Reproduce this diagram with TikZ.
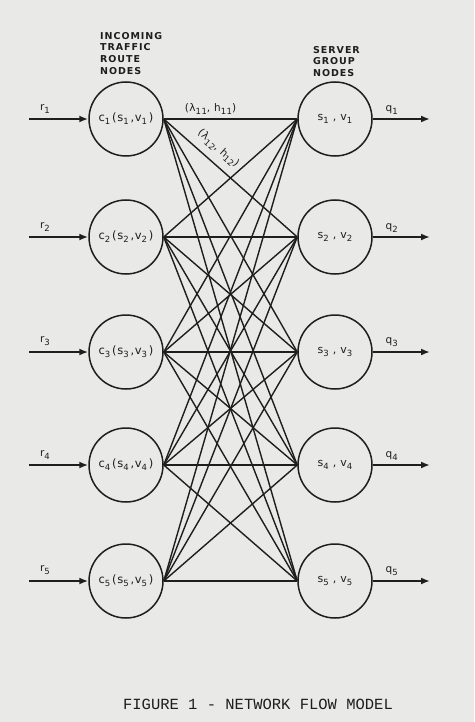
\documentclass[tikz,border=0pt]{standalone}
\usepackage{fontspec}
\usetikzlibrary{arrows.meta}
\newfontfamily\lett[LetterSpace=5]{DejaVu Sans}
\newfontfamily\hdr[LetterSpace=10]{DejaVu Sans}
\newfontfamily\typew{Liberation Mono}
\newcommand{\lsub}[1]{\raisebox{-3pt}{\fontsize{8.5}{9}\selectfont #1}}
\definecolor{paper}{RGB}{233,233,231}
\definecolor{ink}{RGB}{30,30,30}
\begin{document}
\begin{tikzpicture}[x=1pt,y=-1pt,
  lnode/.style={circle,draw=ink,line width=1.5pt,minimum size=74pt,inner sep=0pt,text=ink,font=\lett\fontsize{11.5}{12}\selectfont},
  rnode/.style={circle,draw=ink,line width=1.5pt,minimum size=74pt,inner sep=0pt,text=ink,font=\lett\fontsize{11}{12}\selectfont},
  arr/.style={draw=ink,line width=1.8pt,-{Latex[length=9pt,width=7pt]}},
  flow/.style={draw=ink,line width=1.4pt},
  lbl/.style={text=ink,font=\lett\fontsize{10.5}{12}\selectfont,inner sep=1pt},
  head/.style={text=ink,align=left,anchor=north west,inner sep=0pt,font=\hdr\bfseries\fontsize{9.5}{11.6}\selectfont}
]
\fill[paper] (0,0) rectangle (474,722);
\useasboundingbox (0,0) rectangle (474,722);
\node[head] (hl) at (100,32) {INCOMING\\TRAFFIC\\ROUTE\\NODES};
\node[head] (hr) at (313,46) {SERVER\\GROUP\\NODES};
\foreach \i/\y in {1/119,2/237,3/352,4/465,5/581}{
  \node[lnode] (c\i) at (126,\y) {c\lsub{\i}\,(s\lsub{\i}\,,v\lsub{\i}\,)};
  \node[rnode] (s\i) at (335,\y) {s\lsub{\i} , v\lsub{\i}};
  \coordinate (in\i) at (29,\y);
  \coordinate (out\i) at (430,\y);
  \draw[arr] (in\i) -- (c\i.west) node[lbl,pos=0.27,above=4pt] (r\i) {r\lsub{\i}};
  \draw[arr] (s\i.east) -- (out\i) node[lbl,pos=0.33,above=3pt] (q\i) {q\lsub{\i}};
}
\foreach \i in {1,...,5}{
  \foreach \j in {1,...,5}{
    \draw[flow] (c\i.east) -- (s\j.west);
  }
}
\path (c1.east) -- (s1.west) node[lbl,pos=0.35,above=3pt] (l11) {(λ\lsub{11}, h\lsub{11})};
\path (c1.east) -- (s2.west) node[lbl,pos=0.34,sloped,above=7pt] (l12) {(λ\lsub{12}, h\lsub{12})};
\node[text=ink,font=\typew\fontsize{15.5}{18}\selectfont] (cap) at (258,704) {FIGURE 1 - NETWORK FLOW MODEL};
\end{tikzpicture}
\end{document}
